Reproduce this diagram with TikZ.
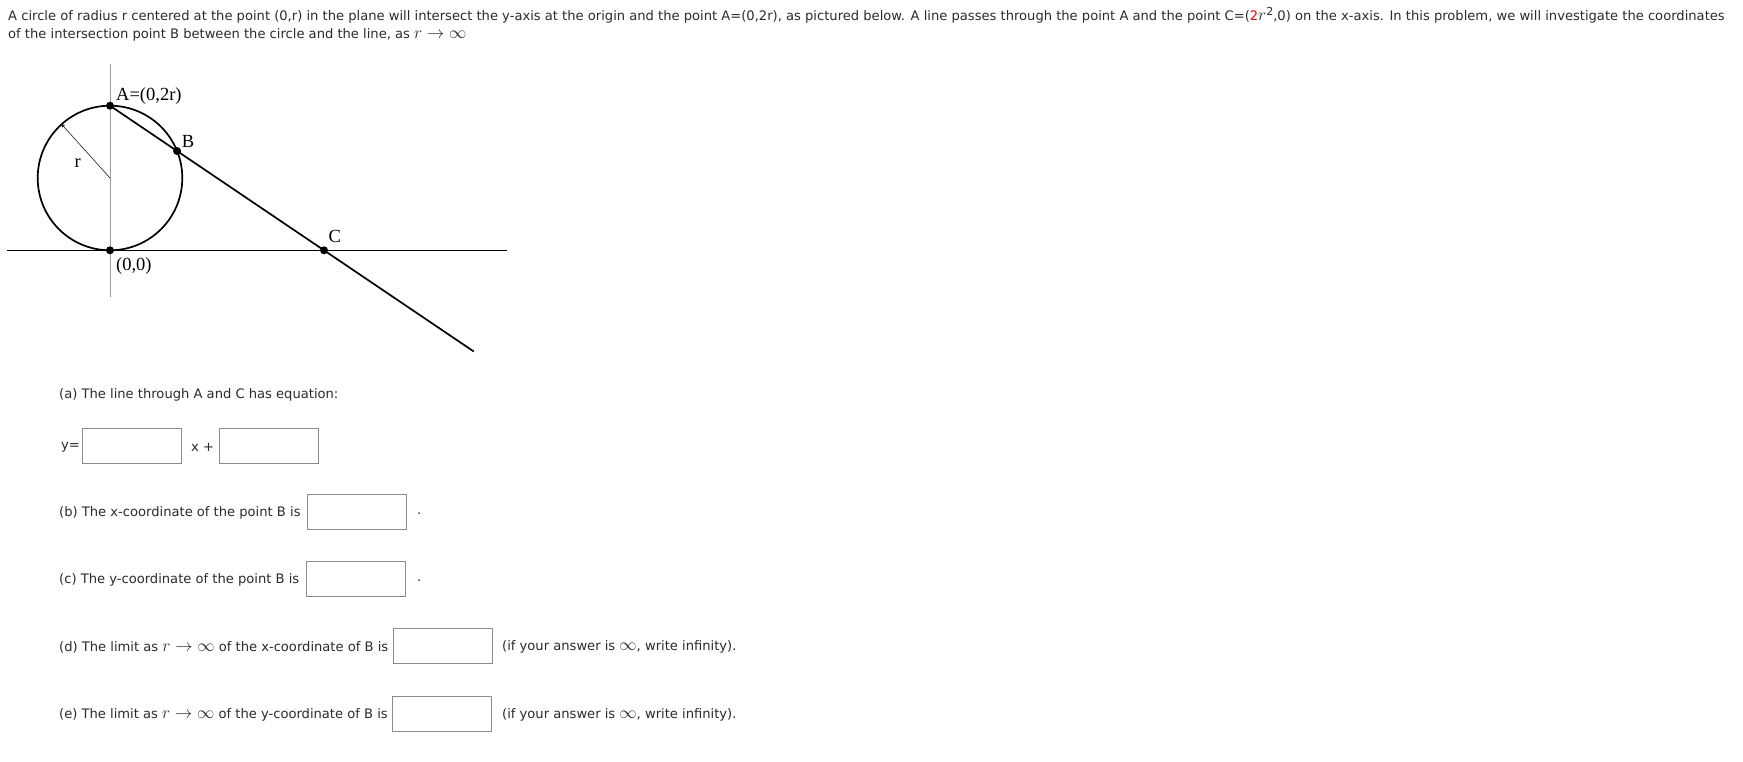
\documentclass[tikz,border=0pt]{standalone}
\usepackage{amsmath}
\usepackage{fontspec}
\setmainfont{DejaVu Sans}
\newfontfamily\figfont{Liberation Serif}
\usepackage{xcolor}
\usepackage{tikz}
\usetikzlibrary{calc,arrows,positioning}

\definecolor{txtgray}{HTML}{2B2B2B}
\definecolor{boxgray}{HTML}{8C8C8C}
\newcommand{\bigmath}[1]{{\fontsize{16}{18}\selectfont$#1$}}
\tikzset{
  qtext/.style={anchor=west,inner sep=0pt,text=txtgray,font=\fontsize{13.1}{16}\selectfont},
  toptext/.style={anchor=west,inner sep=0pt,text=txtgray,font=\fontsize{13.1}{16}\selectfont},
  ansbox/.style={draw=boxgray,line width=1pt,anchor=north west,inner sep=0pt,minimum width=99pt,minimum height=35pt},
  figlabel/.style={inner sep=0pt,font=\figfont\fontsize{18.5}{21}\selectfont},
  dot/.style={fill=black}
}

\begin{document}
\begin{tikzpicture}[x=1pt,y=-1pt]
\fill[white] (0,0) rectangle (1743,762);
\useasboundingbox (0,0) rectangle (1743,762);

% question text
\node[toptext] (line1) at (8,15) {A circle of radius r centered at the point (0,r) in the plane will intersect the y-axis at the origin and the point A=(0,2r), as pictured below. A line passes through the point A and the point C=(\textcolor{red}{2}\bigmath{r}\raisebox{0.75ex}{\fontsize{11}{12}\selectfont 2},0) on the x-axis. In this problem, we will investigate the coordinates};
\node[toptext] (line2) at (8,35) {of the intersection point B between the circle and the line, as \bigmath{r \to \infty}};

% the figure
\coordinate (O) at (110,250.3);
\coordinate (M) at (110,178);
\coordinate (A) at (110,105.7);
\coordinate (C) at (324,250.3);
\coordinate (B) at ($(A)!0.3135!(C)$);
\coordinate (E) at ($(A)!1.7!(C)$);
\coordinate (R) at ($(M)+(132:72.3pt)$);

\draw[black!40,line width=1pt] (110,64) -- (110,297);% y-axis
\draw[line width=1pt] (7,250.3) -- (507,250.3);% x-axis
\draw[line width=1.7pt] (M) circle (72.3pt);
\draw[line width=1.7pt] (A) -- (E);
\draw[line width=0.5pt,-stealth] (M) -- (R);% radius r

\fill[dot] (A) circle (4pt);
\fill[dot] (B) circle (4pt);
\fill[dot] (C) circle (4pt);
\fill[dot] (O) circle (4pt);

\node[figlabel,anchor=west] (labA) at (116,96) {A=(0,2r)};
\node[figlabel] (labB) at (188,141) {B};
\node[figlabel] (labC) at (334.7,236.7) {C};
\node[figlabel,anchor=west] (labO) at (116,266) {(0,0)};
\node[figlabel] (labr) at (77.7,162.7) {r};

% (a)
\node[qtext] (qa) at (59,395) {(a) The line through A and C has equation:};
\node[qtext] (ya) at (61,447) {y=};
\node[ansbox] (boxa1) at (82.3,427.7) {};
\node[qtext] (xa) at (191,447) {x +};
\node[ansbox] (boxa2) at (219.3,427.7) {};

% (b)
\node[qtext] (qb) at (59,513.3) {(b) The x-coordinate of the point B is};
\node[ansbox] (boxb) at (307.3,494.3) {};
\node[qtext] (dotb) at (417,514) {.};

% (c)
\node[qtext] (qc) at (59,580) {(c) The y-coordinate of the point B is};
\node[ansbox] (boxc) at (306.3,561.3) {};
\node[qtext] (dotc) at (417,581) {.};

% (d)
\node[qtext] (qd) at (59,647.3) {(d) The limit as \bigmath{r \to \infty} of the x-coordinate of B is};
\node[ansbox] (boxd) at (393.3,628.3) {};
\node[qtext] (hintd) at (502,647.3) {(if your answer is \bigmath{\infty}, write infinity).};

% (e)
\node[qtext] (qe) at (59,715) {(e) The limit as \bigmath{r \to \infty} of the y-coordinate of B is};
\node[ansbox] (boxe) at (392.3,695.7) {};
\node[qtext] (hinte) at (502,715) {(if your answer is \bigmath{\infty}, write infinity).};
\end{tikzpicture}
\end{document}
